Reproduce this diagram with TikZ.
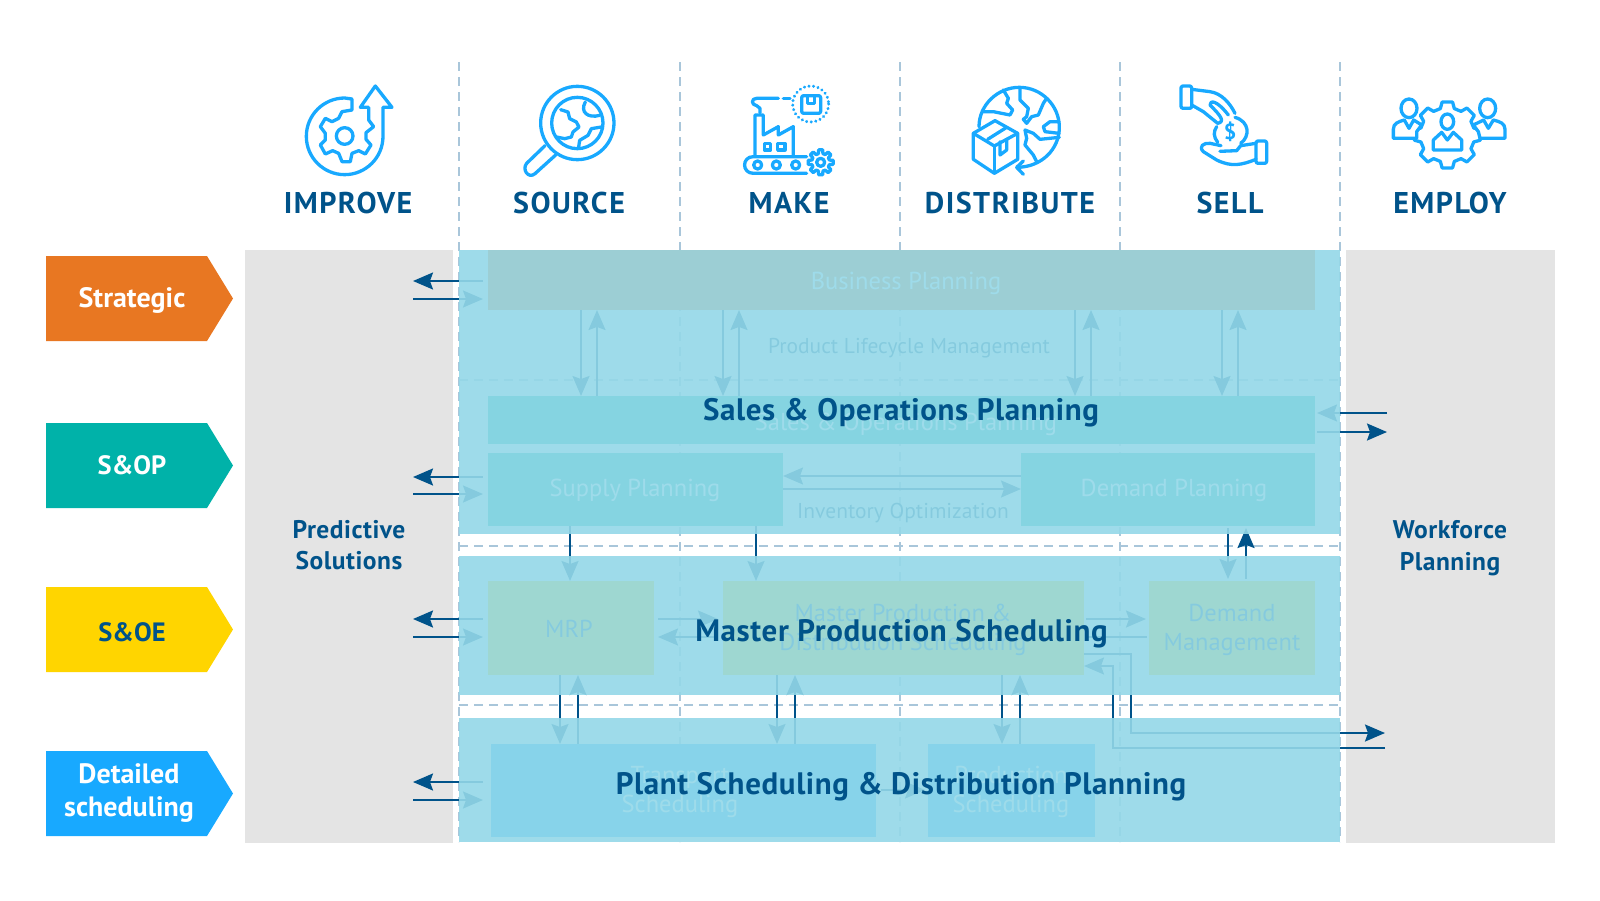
\documentclass[tikz,border=0pt]{standalone}
\usepackage{fontspec}
\setmainfont{PT Sans}
\usetikzlibrary{arrows.meta,calc}
\definecolor{navy}{HTML}{00538A}
\definecolor{iconblue}{HTML}{18A9FF}
\definecolor{orangec}{HTML}{E87722}
\definecolor{tealc}{HTML}{00B2A9}
\definecolor{yellowc}{HTML}{FFD500}
\definecolor{greyc}{HTML}{E4E4E4}
\definecolor{dashc}{HTML}{A9C6DA}
\definecolor{bandc}{HTML}{94D8E8}
\newcommand{\fsz}[1]{\fontsize{#1}{#1}\selectfont}
\newcommand{\lsp}[1]{\addfontfeature{LetterSpace=#1}}
\tikzset{
  iconline/.style={draw=iconblue,line width=3.3pt,line cap=round,line join=round},
  panel/.style={fill=greyc},
  guide/.style={draw=dashc,line width=1.6pt,dash pattern=on 9pt off 6pt},
  band/.style={fill=bandc,opacity=.9},
  flow/.style={draw=navy,line width=2pt,-{Stealth[length=20pt,width=17pt,inset=3pt]}},
  flowline/.style={draw=navy,line width=2pt},
  head/.style={font=\bfseries\fsz{30}\lsp{5},text=navy,inner sep=0pt},
  side/.style={font=\bfseries\fsz{25.5}\lsp{2},text=navy,align=center,inner sep=0pt},
  boxlab/.style={font=\fsz{24.5},text=white,align=center,inner sep=0pt},
  midlab/.style={font=\fsz{21.5},text=navy,align=center,inner sep=0pt},
  navlab/.style={font=\fsz{24.5},text=navy,align=center,inner sep=0pt},
  toplab/.style={font=\bfseries\fsz{31}\lsp{2},text=navy,inner sep=0pt},
  chevlab/.style={font=\bfseries\fsz{28},align=center,inner sep=0pt},
  chevcap/.style={font=\bfseries\fsz{26.5},align=center,inner sep=0pt},
}
% name, x1, y1, x2, y2, fill
\newcommand{\blk}[6]{%
  \pgfmathsetmacro\bw{#4-#2}\pgfmathsetmacro\bh{#5-#3}%
  \node[fill=#6,inner sep=0pt,outer sep=0pt,minimum width=\bw pt,minimum height=\bh pt] (#1) at ({(#2+#4)/2},{(#3+#5)/2}) {};}
% x, y, outer r, inner r, teeth
\newcommand{\gearicon}[5]{%
  \pgfmathsetmacro\gearstep{360/#5}%
  \pgfmathtruncatemacro\gearlast{#5-1}%
  \draw[iconline,fill=white,shift={(#1,#2)}] ({-0.33*\gearstep}:#4)
    \foreach \i in {0,...,\gearlast}{
      -- ({\i*\gearstep-0.33*\gearstep}:#4) -- ({\i*\gearstep-0.2*\gearstep}:#3)
      -- ({\i*\gearstep+0.2*\gearstep}:#3) -- ({\i*\gearstep+0.33*\gearstep}:#4)} -- cycle;}
\newcommand{\chev}[3]{\fill[#1] (46,#2) -- (207,#2) -- (233,{(#2+#3)/2}) -- (207,#3) -- (46,#3) -- cycle;}
\begin{document}
\begin{tikzpicture}[x=1pt,y=-1pt]
\useasboundingbox (0,0) rectangle (1600,900);
\fill[white] (0,0) rectangle (1600,900);

% grey panels
\fill[panel] (245,250) rectangle (453,843);
\fill[panel] (1346,250) rectangle (1555,843);

% guides
\foreach \gx in {459,680,900,1120,1340} \draw[guide] (\gx,62) -- (\gx,842);
\foreach \gy in {380,546,705} \draw[guide] (459,\gy) -- (1340,\gy);

% blocks
\blk{biz}{488}{250}{1315}{310}{orangec}
\blk{sop}{488}{396}{1315}{444}{tealc}
\blk{sup}{488}{453}{783}{526}{tealc}
\blk{dem}{1021}{453}{1315}{526}{tealc}
\blk{mrp}{488}{581}{654}{675}{yellowc}
\blk{mps}{723}{581}{1084}{675}{yellowc}
\blk{dmg}{1149}{581}{1315}{675}{yellowc}
\blk{trn}{491}{744}{876}{837}{iconblue}
\blk{prd}{928}{744}{1095}{837}{iconblue}

% labels under the veil
\node[boxlab] (tbiz) at (906,283) {Business Planning};
\node[midlab] (tplm) at (909,348) {Product Lifecycle Management};
\node[boxlab] (tsop) at (906,424) {Sales \& Operations Planning};
\node[boxlab] (tsup) at (635,490) {Supply Planning};
\node[boxlab] (tdem) at (1174,490) {Demand Planning};
\node[midlab] (tinv) at (903,513) {Inventory Optimization};
\node[navlab] (tmrp) at (569,629) {MRP};
\node[navlab] (tmps) at (903,630) {Master Production \&\\[5pt]Distribution Scheduling};
\node[navlab] (tdmg) at (1232,630) {Demand\\[5pt]Management};
\node[boxlab] (ttrn) at (680,792) {Transport\\[5pt]Scheduling};
\node[boxlab] (tprd) at (1011,792) {Production\\[5pt]Scheduling};

% column and row coordinates for the flows
\foreach \cx in {413,483,560,570,578,581,597,723,739,756,777,795,1002,1020,1075,1091,1113,1131,1222,1228,1238,1246,1317,1385,1387}
  \coordinate (x\cx) at (\cx,0);
\foreach \ry in {281,299,413,432,476,477,489,494,619,637,654,666,733,748,782,790,800}
  \coordinate (y\ry) at (0,\ry);

% business <-> s&op
\foreach \dn/\up in {581/597,723/739,1075/1091,1222/1238}{
  \draw[flow] (biz.south -| x\dn) -- (sop.north -| x\dn);
  \draw[flow] (sop.north -| x\up) -- (biz.south -| x\up);
}
% s&op internal
\draw[flow] (dem.west |- y476) -- (sup.east |- y476);
\draw[flow] (sup.east |- y489) -- (dem.west |- y489);
% s&op -> s&oe
\draw[flow] (sup.south -| x570) -- (mrp.north -| x570);
\draw[flow] (sup.south -| x756) -- (mps.north -| x756);
\draw[flow,shorten <=2pt,shorten >=2pt] (dem.south -| x1228) -- (dmg.north -| x1228);
\draw[flow,shorten <=2pt,shorten >=2pt] (dmg.north -| x1246) -- (dem.south -| x1246);
% s&oe internal
\draw[flow,shorten <=4pt,shorten >=5pt] (mrp.east |- y619) -- (mps.west |- y619);
\draw[flow,shorten <=5pt,shorten >=4pt] (mps.west |- y637) -- (mrp.east |- y637);
\draw[flow,shorten <=2pt,shorten >=3pt] (mps.east |- y619) -- (dmg.west |- y619);
\draw[flowline,shorten <=2pt,shorten >=3pt] (dmg.west |- y637) -- (mps.east |- y637);
% s&oe <-> detailed
\draw[flow] (mrp.south -| x560) -- (trn.north -| x560);
\draw[flow] (trn.north -| x578) -- (mrp.south -| x578);
\draw[flow] (mps.south -| x777) -- (trn.north -| x777);
\draw[flow] (trn.north -| x795) -- (mps.south -| x795);
\draw[flow] (mps.south -| x1002) -- (prd.north -| x1002);
\draw[flow] (prd.north -| x1020) -- (mps.south -| x1020);
% transport -> production
\draw[flow,shorten <=5pt,shorten >=3pt] (trn.east |- y790) -- (prd.west |- y790);
% left stubs
\foreach \a/\b in {281/299,477/494,619/637,782/800}{
  \draw[flow] (x483 |- y\a) -- (x413 |- y\a);
  \draw[flow] (x413 |- y\b) -- (x483 |- y\b);
}
% right stubs
\draw[flow] (x1387 |- y413) -- (x1317 |- y413);
\draw[flow] (x1317 |- y432) -- (x1387 |- y432);
% long routed flows between MPS and the right panel
\draw[flow] (mps.east |- y654) -- (x1131 |- y654) -- (x1131 |- y733) -- (x1385 |- y733);
\draw[flow] (x1385 |- y748) -- (x1113 |- y748) -- (x1113 |- y666) -- (mps.east |- y666);

% translucent veils
\fill[band] (459,250) rectangle (1340,534);
\fill[band] (459,556) rectangle (1340,695);
\fill[band] (459,718) rectangle (1340,842);

% bold titles on the veils
\node[toplab] (tsopb) at (901,413) {Sales \& Operations Planning};
\node[toplab] (tmpsb) at (901.5,634) {Master Production Scheduling};
\node[toplab] (tplan) at (901,787) {Plant Scheduling \& Distribution Planning};

% panel texts
\node[side] (pred) at (349,545) {Predictive\\[6pt]Solutions};
\node[side] (work) at (1450,548) {Workforce\\[6pt]Planning};

% level chevrons
\chev{orangec}{256}{341}
\chev{tealc}{423}{508}
\chev{yellowc}{587}{672}
\chev{iconblue}{751}{836}
\node[chevlab,text=white] (lstr) at (132,300) {Strategic};
\node[chevcap,text=white] (lsop) at (132,465) {S\&OP};
\node[chevcap,text=navy] (lsoe) at (132,632) {S\&OE};
\node[chevlab,text=white] (ldet) at (129,793) {Detailed\\[5pt]scheduling};

% column headers
\node[head] (himp) at (348,203) {IMPROVE};
\node[head] (hsrc) at (569,203) {SOURCE};
\node[head] (hmak) at (789,203) {MAKE};
\node[head] (hdis) at (1010,203) {DISTRIBUTE};
\node[head] (hsel) at (1230,203) {SELL};
\node[head] (hemp) at (1450,203) {EMPLOY};

% ---------- icons (drawn in 3x local units) ----------
% improve
\begin{scope}[shift={(297,80)},scale=.3333]
  \draw[iconline] (165,90) -- (165,57) -- (143,54)
    .. controls (80,54) and (28,105) .. (28,169)
    .. controls (28,233) and (80,284) .. (143,284)
    .. controls (206,284) and (258,233) .. (258,169)
    -- (258,82) -- (285,82) -- (235,18) -- (190,82) -- (215,82) -- (215,120)
    -- (230,140) -- (207,158) -- (207,178) -- (222,195) -- (205,222) -- (185,212)
    -- (165,220) -- (160,245) -- (135,245) -- (125,220) -- (107,212) -- (85,222)
    -- (70,195) -- (85,180) -- (85,160) -- (70,140) -- (85,115) -- (105,125)
    -- (125,115) -- (135,95) -- cycle;
  \draw[iconline] (143,168) circle[radius=25];
\end{scope}
% source
\begin{scope}[shift={(515,80)},scale=.3333]
  \draw[iconline] (187,129) circle[radius=110];
  \draw[iconline] (187,129) circle[radius=77];
  \draw[iconline] (90,197) -- (35,250) .. controls (20,268) and (40,298) .. (60,281) -- (122,225);
  \begin{scope}[shift={(4,11)}]
  \draw[iconline] (133,78) -- (155,85) -- (160,105) -- (180,115) -- (188,130) -- (170,145) -- (165,160) -- (145,165) -- (120,160);
  \draw[iconline] (207,55) .. controls (190,85) and (215,105) .. (250,95);
  \draw[iconline] (255,130) -- (225,135) -- (215,155) -- (190,170) -- (187,190);
  \end{scope}
\end{scope}
% make
\begin{scope}[shift={(735,80)},scale=.3333]
  \draw[iconline,dash pattern=on .01pt off 4.6pt] (227,72) circle[radius=54];
  \draw[iconline,rounded corners=2pt] (200,47) rectangle (257,100);
  \draw[iconline] (217,47) -- (217,70) -- (238,70) -- (238,47);
  \draw[iconline] (165,55) -- (145,55);
  \draw[iconline] (130,55) -- (65,55) .. controls (48,55) and (48,75) .. (65,77) -- (75,85) -- (75,98);
  \draw[iconline] (60,228) -- (60,105) -- (85,105) -- (85,165) -- (130,140) -- (130,165) -- (175,140) -- (175,228);
  \draw[iconline] (88,190) rectangle (107,210);
  \draw[iconline] (128,190) rectangle (150,210);
  \draw[iconline] (215,230) -- (55,230) .. controls (20,230) and (20,280) .. (55,280) -- (215,280);
  \foreach \wx in {68,124,182} \draw[iconline] (\wx,255) circle[radius=12];
  \gearicon{257}{247}{38}{27}{8}
  \draw[iconline] (257,247) circle[radius=12];
\end{scope}
% distribute
\begin{scope}[shift={(965,80)},scale=.3333]
  \draw[iconline] (42,140) .. controls (42,75) and (98,22) .. (163,22)
    .. controls (229,22) and (283,76) .. (283,142)
    .. controls (283,208) and (229,262) .. (155,262);
  \draw[iconline] (175,243) -- (155,262) -- (175,283);
  \draw[iconline] (115,30) -- (130,55) -- (125,70) -- (143,90) -- (135,105) -- (110,100) -- (85,95) -- (55,95);
  \draw[iconline] (165,25) -- (165,60) -- (190,85) -- (185,110) -- (175,118) -- (185,130) -- (200,110) -- (220,105) -- (235,70) -- (245,55);
  \draw[iconline] (282,125) -- (255,125) -- (235,140) -- (240,155) -- (282,160);
  \draw[iconline] (283,172) -- (225,178) -- (205,160) -- (180,150) -- (185,175) -- (180,195) -- (205,225) -- (215,245);
  \draw[iconline,fill=white] (90,122) -- (158,160) -- (158,238) -- (88,280) -- (25,238) -- (25,160) -- cycle;
  \draw[iconline] (25,160) -- (88,198) -- (158,160);
  \draw[iconline] (88,198) -- (88,280);
  \draw[iconline] (125,142) -- (68,178);
  \draw[iconline] (105,185) -- (105,225) -- (125,210) -- (125,178);
\end{scope}
% sell
\begin{scope}[shift={(1175,80)},scale=.3333]
  \draw[iconline,rounded corners=2pt] (18,18) rectangle (50,85);
  \draw[iconline] (50,28) -- (105,35) .. controls (140,40) and (165,70) .. (180,100);
  \draw[iconline] (50,75) -- (85,95) -- (128,130) .. controls (150,125) and (140,110) .. (105,75) .. controls (105,60) and (125,60) .. (160,105);
  \draw[iconline] (180,112) .. controls (225,125) and (225,170) .. (197,190);
  \draw[iconline] (125,140) .. controls (115,155) and (115,170) .. (128,187);
  \node[font=\bfseries\fsz{22},text=iconblue,inner sep=0pt] (dollar) at (165,155) {\$};
  \draw[iconline,rounded corners=2pt] (243,183) rectangle (275,250);
  \draw[iconline] (243,190) -- (197,197) -- (185,212) -- (135,214);
  \draw[iconline] (243,238) .. controls (200,255) and (170,262) .. (125,240) -- (85,215) .. controls (70,200) and (85,188) .. (105,190) -- (138,197) ;
\end{scope}
% employ
\begin{scope}[shift={(1385,90)},scale=.3333]
  \gearicon{187}{135}{100}{82}{8}
  \draw[iconline,fill=white] (25,145) -- (25,118) .. controls (25,100) and (40,95) .. (58,90) -- (72,115) -- (86,90) -- (110,105) -- (95,125) -- (95,145) -- cycle;
  \draw[iconline,fill=white] (72,55) ellipse[x radius=24,y radius=28];
  \draw[iconline,fill=white] (360,145) -- (360,118) .. controls (360,100) and (345,95) .. (325,90) -- (310,115) -- (296,90) -- (265,105) -- (280,125) -- (285,145) -- cycle;
  \draw[iconline,fill=white] (308,55) ellipse[x radius=24,y radius=28];
  \draw[iconline,fill=white] (145,180) -- (145,150) -- (170,127) -- (187,150) -- (205,127) -- (230,150) -- (230,180) -- cycle;
  \draw[iconline,fill=white] (187,95) ellipse[x radius=19,y radius=23];
\end{scope}
\end{tikzpicture}
\end{document}
